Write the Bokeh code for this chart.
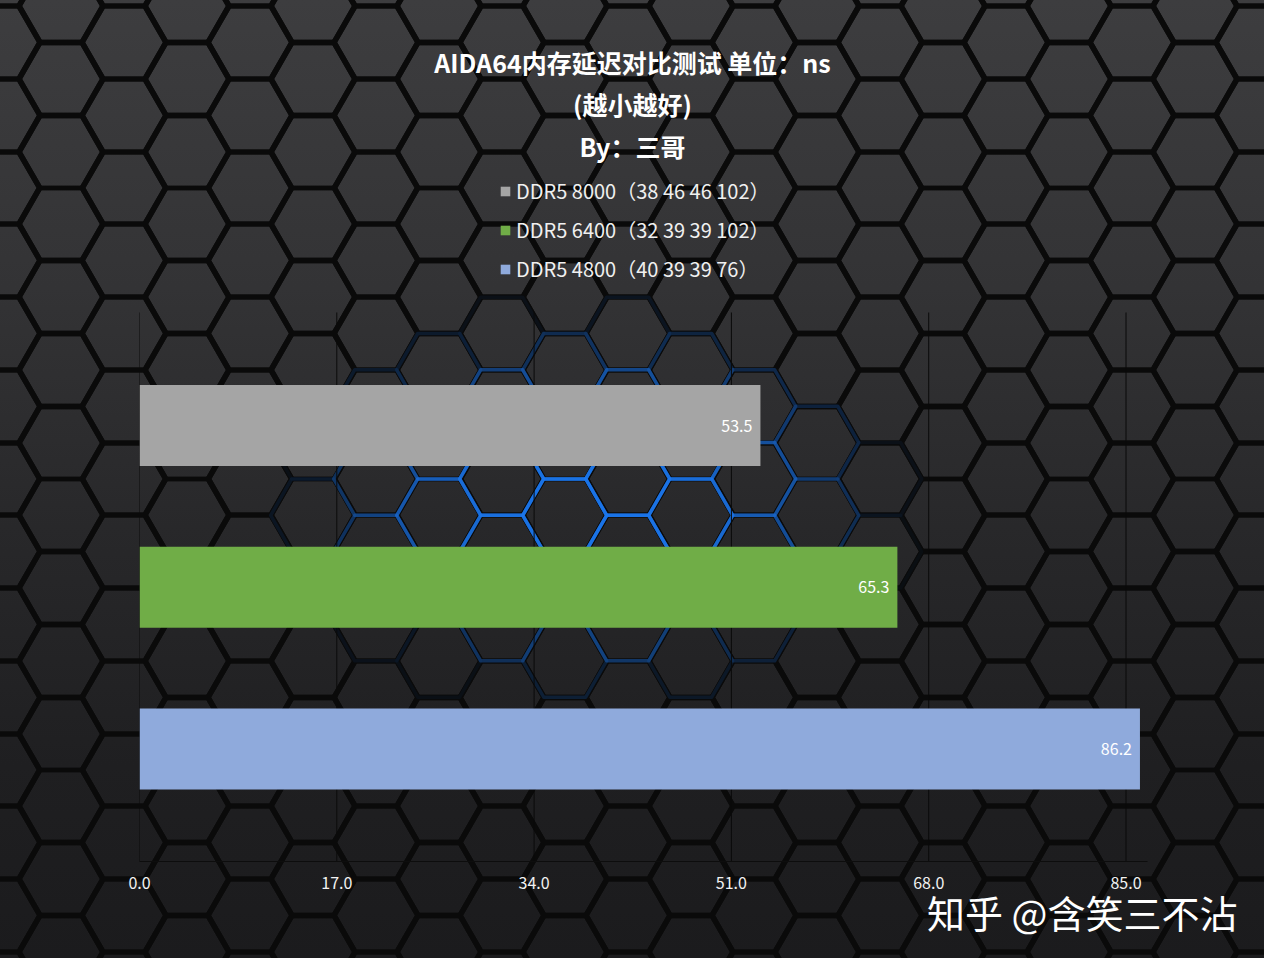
import math
import urllib.parse

from bokeh.plotting import figure
from bokeh.models import (Label, FixedTicker, NumeralTickFormatter, InlineStyleSheet,
                          ColumnDataSource, Title)
from bokeh.embed import file_html
from bokeh.resources import INLINE
from bokeh.core.properties import value

# ---------------- data ----------------
title_lines = ["AIDA64内存延迟对比测试 单位：ns", "(越小越好)", "By：三哥"]
series = ["DDR5 8000（38 46 46 102）", "DDR5 6400（32 39 39 102）", "DDR5 4800（40 39 39 76）"]
latency = [53.5, 65.3, 86.2]
colors = ["#a5a5a5", "#70ad47", "#8faadc"]
ticks = [0, 17, 34, 51, 68, 85]
watermark = "知乎 @含笑三不沾"

FONT = "Noto Sans CJK SC"
W, H = 1264, 958

# layout (page pixels -> data units)
X_END = 86.85
PX = 1008 / X_END          # px per x unit
PY = 161.75                # px per category step
Y0 = 756.5                 # page y of lowest category


def dx(page_x):
    return (page_x - 147) / PX


def dy(page_y):
    return (Y0 - page_y) / PY


Y_START = dy(869)
Y_END = dy(8)
GRID_TOP = dy(320)

# ---------------- decorative hexagon background (CSS) ----------------
s = 42.0
hh = s * math.sqrt(3) / 2
tw, th = 3 * s, 2 * hh


def hexpath(cx, cy):
    pts = [(cx - s, cy), (cx - s / 2, cy - hh), (cx + s / 2, cy - hh),
           (cx + s, cy), (cx + s / 2, cy + hh), (cx - s / 2, cy + hh)]
    return "M" + " L".join(f"{x:.2f},{y:.2f}" for x, y in pts) + " Z"


tile_centers = [(s, hh), (s + tw, hh), (s - tw, hh),
                (2.5 * s, 0), (2.5 * s, th), (-0.5 * s, 0), (-0.5 * s, th)]
tile_paths = "".join(f'<path d="{hexpath(cx, cy)}"/>' for cx, cy in tile_centers)
tile_svg = (f'<svg xmlns="http://www.w3.org/2000/svg" width="{tw:.2f}" height="{th:.2f}">'
            f'<g fill="none" stroke="#0a0a0a" stroke-width="5.5" stroke-linejoin="round">'
            f'{tile_paths}</g></svg>')

ax0, ay0 = 1005.7, 333.5
glow = []
for k in range(-10, 4):
    for m in range(-6, 10):
        for (cx, cy) in [(ax0 + tw * k, ay0 + th * m), (ax0 + 1.5 * s + tw * k, ay0 - hh + th * m)]:
            d = math.hypot((cx - 590) / 310.0, (cy - 505) / 190.0)
            op = max(0.0, 1.0 - d)
            if op > 0.03:
                glow.append(f'<path d="{hexpath(cx, cy)}" stroke-opacity="{min(0.8, op * 1.1):.2f}"/>')
glow_svg = (f'<svg xmlns="http://www.w3.org/2000/svg" width="{W}" height="{H}">'
            f'<g fill="none" stroke="#1c78f0" stroke-width="3.5" stroke-linejoin="round">'
            f'{"".join(glow)}</g></svg>')

off_x = (ax0 - s) % tw
off_y = (ay0 - hh) % th
css = f"""
:host {{
  background-image: url("data:image/svg+xml,{urllib.parse.quote(glow_svg, safe='')}"),
                    url("data:image/svg+xml,{urllib.parse.quote(tile_svg, safe='')}"),
                    linear-gradient(to bottom, #3d3d3f 0%, #333335 30%, #28282a 55%, #1f1f21 80%, #1b1b1d 100%);
  background-repeat: no-repeat, repeat, no-repeat;
  background-size: {W}px {H}px, {tw:.2f}px {th:.2f}px, 100% 100%;
  background-position: 0px 0px, {off_x:.2f}px {off_y:.2f}px, 0px 0px;
}}
"""

# ---------------- figure ----------------
p = figure(width=W, height=H, output_backend="svg", toolbar_location=None, title=None,
           x_range=(0, X_END), y_range=(Y_START, Y_END), y_axis_location=None,
           min_border_left=139, min_border_right=117, min_border_top=0, min_border_bottom=97)
p.stylesheets = [InlineStyleSheet(css=css)]
p.background_fill_alpha = 0
p.border_fill_alpha = 0
p.outline_line_color = None

# vertical grid lines limited to the plot area
p.xgrid.visible = False
p.ygrid.visible = False
p.segment(x0=ticks, x1=ticks, y0=[Y_START] * len(ticks), y1=[GRID_TOP] * len(ticks),
          line_color="#0a0a0a", line_width=1)

n = len(series)
for i, (name, v, c) in enumerate(zip(series, latency, colors)):
    src = ColumnDataSource(dict(y=[n - 1 - i], right=[v], label=[f"{v:.1f}"]))
    p.hbar(y="y", left=0, right="right", height=0.5, fill_color=c, line_color=None,
           source=src, legend_label=name)
    p.text(x="right", y="y", text="label", source=src, x_offset=-8,
           text_align="right", text_baseline="middle", text_color="#ffffff",
           text_font=value(FONT), text_font_size="16px")

# axis
ax = p.xaxis[0]
ax.ticker = FixedTicker(ticks=ticks)
ax.formatter = NumeralTickFormatter(format="0.0")
ax.bounds = (0, X_END)
ax.major_label_text_color = "#f2f2f2"
ax.major_label_text_font = FONT
ax.major_label_text_font_size = "16px"
ax.major_tick_line_color = None
ax.minor_tick_line_color = None
ax.axis_line_color = "#0d0d0d"
ax.major_label_standoff = 9

# legend
lg = p.legend[0]
lg.location = (360, 578)
lg.orientation = "vertical"
lg.label_text_font = FONT
lg.label_text_font_size = "20px"
lg.label_text_color = "#f0f0f0"
lg.glyph_width = 12
lg.glyph_height = 12
lg.label_standoff = 5
lg.label_height = 29
lg.spacing = 10
lg.padding = 0
lg.margin = 0
lg.border_line_alpha = 0
lg.background_fill_alpha = 0

# titles (inside the frame, data units)
for txt, py in zip(title_lines, [69, 111, 153]):
    p.add_layout(Label(x=dx(640), y=dy(py), text=txt,
                       text_align="center", text_baseline="middle", text_font=FONT,
                       text_font_size="25px", text_font_style="bold", text_color="#ffffff"))

# watermark below the axis
p.add_layout(Title(text=watermark, align="right", offset=-90, text_font=FONT,
                   text_font_size="38px", text_font_style="normal", text_color="#ffffff",
                   standoff=-15, vertical_align="top"), "below")

open("out.html", "w").write(file_html(p, INLINE))
